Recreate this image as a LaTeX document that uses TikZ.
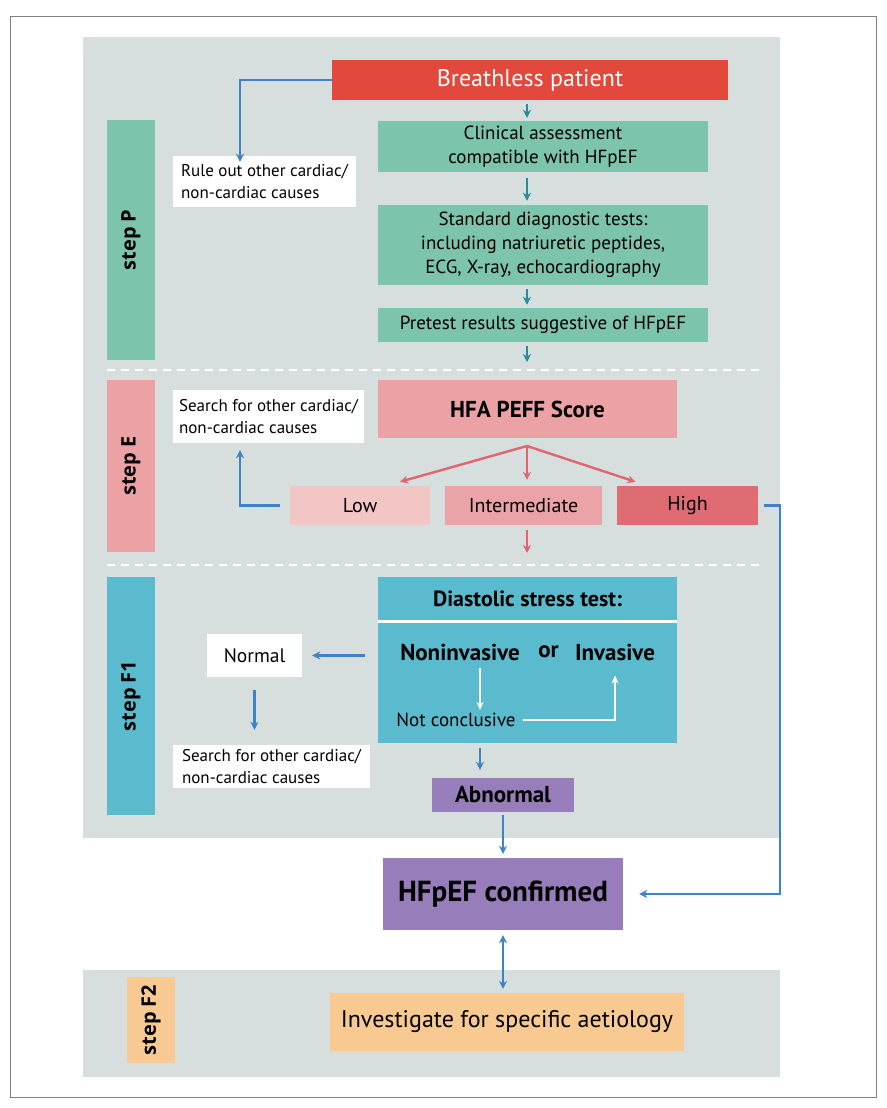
\documentclass[tikz,border=0pt]{standalone}
\usepackage{fontspec}
\setmainfont{PT Sans}
\newfontfamily\labfont{Open Sans}
\usetikzlibrary{arrows.meta, calc}

\definecolor{panelgray}{RGB}{214,222,222}
\definecolor{breathred}{RGB}{226,72,60}
\definecolor{pgreen}{RGB}{124,196,172}
\definecolor{epink}{RGB}{236,162,165}
\definecolor{lowpink}{RGB}{243,198,198}
\definecolor{midpink}{RGB}{234,164,167}
\definecolor{highpink}{RGB}{224,108,115}
\definecolor{fcyan}{RGB}{90,187,207}
\definecolor{cpurple}{RGB}{151,125,185}
\definecolor{forange}{RGB}{249,201,146}
\definecolor{arrblue}{RGB}{62,130,200}
\definecolor{arrteal}{RGB}{38,140,150}
\definecolor{arrred}{RGB}{225,100,110}

\tikzset{
  box/.style={inner sep=0pt, align=center, font=\fontsize{19}{24}\selectfont},
  tealbox/.style={box, fill=pgreen},
  whitebox/.style={box, fill=white, align=left, font=\fontsize{17}{22}\selectfont},
  steplabel/.style={rotate=90, inner sep=0pt, minimum height=48pt, font=\labfont\bfseries\fontsize{20}{22}\selectfont},
  tealarrow/.style={draw=arrteal, line width=2pt, -{Stealth[length=8pt,width=8pt]}},
  bluearrow/.style={draw=arrblue, line width=2.4pt, -{Stealth[length=8pt,width=8pt]}},
  redarrow/.style={draw=arrred, line width=2.4pt, -{Stealth[length=8pt,width=8pt]}},
  whitearrow/.style={draw=white, line width=2pt, -{Stealth[length=8pt,width=7pt]}}
}

\begin{document}
\begin{tikzpicture}[x=1pt, y=-1pt]
\useasboundingbox (0,0) rectangle (886,1108);
\fill[white] (0,0) rectangle (886,1108);
\draw[gray, line width=1pt] (10,17) rectangle (876,1097);
% panels
\fill[panelgray] (83,37) rectangle (780,838);
\fill[panelgray] (83,970) rectangle (780,1077);
\draw[white, line width=2pt, dash pattern=on 8pt off 6pt] (107,370) -- (765,370);
\draw[white, line width=2pt, dash pattern=on 8pt off 6pt] (107,565) -- (765,565);

% step labels
\node[steplabel, fill=pgreen, minimum width=240pt] (stepP) at (131,240) {step P};
\node[steplabel, fill=epink, minimum width=172pt] (stepE) at (131,466) {step E};
\node[steplabel, fill=fcyan, minimum width=238pt] (stepF1) at (131,696) {step F1};
\node[steplabel, fill=forange, minimum width=86pt] (stepF2) at (151,1020) {step F2};

% step P
\node[box, fill=breathred, text=white, minimum width=396pt, minimum height=40pt, font=\fontsize{24}{28}\selectfont] (breath) at (530,80) {Breathless patient};
\node[tealbox, minimum width=330pt, minimum height=51pt] (clin) at (543,146.5) {Clinical assessment\\compatible with HFpEF};
\node[tealbox, minimum width=330pt, minimum height=80pt] (std) at (543,245) {Standard diagnostic tests:\\including natriuretic peptides,\\ECG, X-ray, echocardiography};
\node[tealbox, minimum width=330pt, minimum height=34pt] (pre) at (543,325) {Pretest results suggestive of HFpEF};
\node[whitebox, minimum width=183pt, minimum height=51pt] (rule) at (264.5,181.5) {Rule out other cardiac/\\non-cardiac causes};
\coordinate (axis) at (527,0);
\coordinate (preout) at (527,362);
\draw[tealarrow, shorten <=4pt, shorten >=3pt] (axis |- breath.south) -- (axis |- clin.north);
\draw[tealarrow, shorten <=6pt, shorten >=4pt] (axis |- clin.south) -- (axis |- std.north);
\draw[tealarrow, shorten <=4pt, shorten >=3pt] (axis |- std.south) -- (axis |- pre.north);
\draw[tealarrow, shorten <=4pt] (axis |- pre.south) -- (preout);
\draw[bluearrow] (breath.west) -| ($(rule.north)+(-24.5,6)$);

% step E
\node[box, fill=epink, minimum width=299pt, minimum height=58pt, font=\bfseries\fontsize{23}{26}\selectfont] (hfa) at (527.5,409) {HFA PEFF Score};
\node[whitebox, minimum width=191pt, minimum height=53pt] (search1) at (268.5,416.5) {Search for other cardiac/\\non-cardiac causes};
\node[box, fill=lowpink, minimum width=140pt, minimum height=39pt, font=\fontsize{20}{24}\selectfont] (low) at (360,505.5) {Low};
\node[box, fill=midpink, minimum width=157pt, minimum height=39pt, font=\fontsize{20}{24}\selectfont] (inter) at (523.5,505.5) {Intermediate};
\node[box, fill=highpink, minimum width=141pt, minimum height=39pt, font=\fontsize{20}{24}\selectfont] (high) at (687.5,505.5) {High};
\coordinate (split) at (527,446);
\coordinate (interout) at (527,553);
\draw[redarrow] (split) -- ([xshift=40pt, yshift=4pt]low.north);
\draw[redarrow] (split) -- ([xshift=3.5pt, yshift=6pt]inter.north);
\draw[redarrow] (split) -- ([xshift=-52pt, yshift=4pt]high.north);
\draw[redarrow, shorten <=5pt] ([xshift=3.5pt]inter.south) -- (interout);
\draw[bluearrow, shorten <=10pt] (low.west) -| ([xshift=-28.5pt, yshift=-7pt]search1.south);

% step F1
\node[box, fill=fcyan, minimum width=299pt, minimum height=44pt, font=\bfseries\fontsize{22}{26}\selectfont] (dst) at (527.5,599) {Diastolic stress test:};
\node[box, fill=fcyan, minimum width=299pt, minimum height=121pt] (dbody) at (527.5,682.5) {};
\draw[white, line width=3pt] (dst.south west) -- (dst.south east);
\node[inner sep=1pt, font=\bfseries\fontsize{23}{26}\selectfont] (noninv) at (460,652) {Noninvasive};
\node[inner sep=1pt, font=\bfseries\fontsize{23}{26}\selectfont] (ornode) at (548.5,652) {or};
\node[inner sep=1pt, font=\bfseries\fontsize{23}{26}\selectfont] (inv) at (615,652) {Invasive};
\node[inner sep=1pt, font=\fontsize{19}{22}\selectfont] (notc) at (456,720) {Not conclusive};
\draw[whitearrow, shorten <=6pt, shorten >=2pt] ([xshift=20pt]noninv.south) -- ([xshift=24pt]notc.north);
\draw[whitearrow, shorten <=6pt] (notc.east) -| ([yshift=-14pt]inv.south);
\node[whitebox, align=center, minimum width=95pt, minimum height=43pt, font=\fontsize{19.5}{22}\selectfont] (normal) at (254.5,655.5) {Normal};
\node[whitebox, minimum width=197pt, minimum height=43pt] (search2) at (271.5,766.5) {Search for other cardiac/\\non-cardiac causes};
\node[box, fill=cpurple, minimum width=142pt, minimum height=34pt, font=\bfseries\fontsize{23}{26}\selectfont] (abn) at (503,795) {Abnormal};
\draw[bluearrow, shorten <=13pt, shorten >=10pt] (dbody.west |- normal.east) -- (normal.east);
\draw[bluearrow, shorten <=13pt, shorten >=15pt] (normal.south) -- (normal.south |- search2.north);
\draw[bluearrow, shorten <=5pt, shorten >=8pt] ([xshift=-47.5pt]dbody.south) -- ([xshift=-23pt]abn.north);

% confirmed and step F2
\node[box, fill=cpurple, minimum width=240pt, minimum height=72pt, font=\bfseries\fontsize{29}{33}\selectfont] (conf) at (503,894) {HFpEF confirmed};
\node[box, fill=forange, minimum width=354pt, minimum height=58pt, font=\fontsize{24}{28}\selectfont] (invest) at (507,1022) {Investigate for specific aetiology};
\coordinate (hr) at (780,0);
\draw[bluearrow, shorten <=3pt, shorten >=4pt] (abn.south) -- (conf.north);
\draw[bluearrow, shorten <=6pt, shorten >=16pt] (high.east) -- (hr |- high.east) |- (conf.east);
\draw[bluearrow, {Stealth[length=8pt,width=8pt]}-{Stealth[length=8pt,width=8pt]}, shorten <=5pt, shorten >=4pt] (conf.south) -- (conf.south |- invest.north);
\end{tikzpicture}
\end{document}
